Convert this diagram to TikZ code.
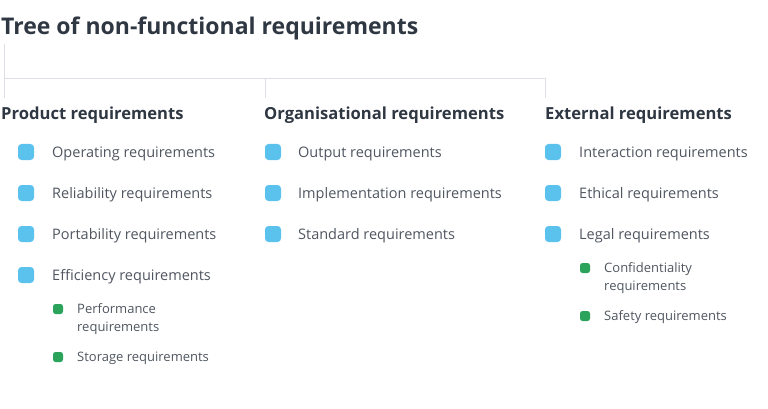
\documentclass[tikz,border=0pt]{standalone}
\usepackage{fontspec}
\setmainfont{Open Sans}
\usetikzlibrary{positioning}
\definecolor{itemblue}{HTML}{5BC2EE}
\definecolor{itemgreen}{HTML}{2BA35A}
\definecolor{headtext}{HTML}{2F3742}
\definecolor{itemtext}{HTML}{4F5660}
\definecolor{branchgray}{HTML}{DCDFE3}
\begin{document}
\begin{tikzpicture}[x=1pt, y=-1pt,
    title/.style={anchor=west, inner sep=0pt, font=\fontsize{23}{26}\selectfont\bfseries, text=headtext},
    heading/.style={anchor=west, inner sep=0pt, font=\fontsize{16.6}{20}\selectfont\bfseries, text=headtext},
    bluebox/.style={fill=itemblue, rounded corners=3.5pt, minimum size=16pt, inner sep=0pt},
    greenbox/.style={fill=itemgreen, rounded corners=2.5pt, minimum size=10pt, inner sep=0pt},
    item/.style={anchor=west, inner sep=0pt, font=\fontsize{14.5}{17}\selectfont, text=itemtext},
    subitem/.style={anchor=west, inner sep=0pt, align=left, font=\fontsize{13}{18}\selectfont, text=itemtext},
    branch/.style={draw=branchgray, line width=1pt}]
    \useasboundingbox (0,0) rectangle (768,409);

    % Title
    \node[title] (tree) at (1,28.5) {Tree of non-functional requirements};

    % Branches
    \coordinate (root) at (4,44);
    \coordinate (fork) at (4,79);
    \coordinate (orgfork) at (265,79);
    \coordinate (extfork) at (545,79);
    \coordinate (prodtop) at (4,98);
    \coordinate (orgtop) at (265,98);
    \coordinate (exttop) at (545,98);
    \draw[branch] (root) -- (prodtop);
    \draw[branch] (fork) -- (extfork) -- (exttop);
    \draw[branch] (orgfork) -- (orgtop);

    % Product requirements
    \node[heading] (prod) at (1,115.5) {Product requirements};
    \node[bluebox] (prodbox1) at (26,152) {};
    \node[item] (operating) at (52,153.5) {Operating requirements};
    \node[bluebox] (prodbox2) at (26,193) {};
    \node[item] (reliability) at (52,194.5) {Reliability requirements};
    \node[bluebox] (prodbox3) at (26,234) {};
    \node[item] (portability) at (52,235.5) {Portability requirements};
    \node[bluebox] (prodbox4) at (26,275) {};
    \node[item] (efficiency) at (52,276.5) {Efficiency requirements};
    \node[greenbox] (effbox1) at (58,309) {};
    \node[subitem] (performance) at (77,319.5) {Performance\\requirements};
    \node[greenbox] (effbox2) at (58,357) {};
    \node[subitem] (storage) at (77,358.5) {Storage requirements};

    % Organisational requirements
    \node[heading] (org) at (264,115.5) {Organisational requirements};
    \node[bluebox] (orgbox1) at (273,152) {};
    \node[item] (output) at (298,153.5) {Output requirements};
    \node[bluebox] (orgbox2) at (273,193) {};
    \node[item] (implementation) at (298,194.5) {Implementation requirements};
    \node[bluebox] (orgbox3) at (273,234) {};
    \node[item] (standard) at (298,235.5) {Standard requirements};

    % External requirements
    \node[heading] (ext) at (545,115.5) {External requirements};
    \node[bluebox] (extbox1) at (553,152) {};
    \node[item] (interaction) at (579,153.5) {Interaction requirements};
    \node[bluebox] (extbox2) at (553,193) {};
    \node[item] (ethical) at (579,194.5) {Ethical requirements};
    \node[bluebox] (extbox3) at (553,234) {};
    \node[item] (legal) at (579,235.5) {Legal requirements};
    \node[greenbox] (legalbox1) at (585,268) {};
    \node[subitem] (confidentiality) at (604,278.5) {Confidentiality\\requirements};
    \node[greenbox] (legalbox2) at (585,316) {};
    \node[subitem] (safety) at (604,317.5) {Safety requirements};
\end{tikzpicture}
\end{document}
